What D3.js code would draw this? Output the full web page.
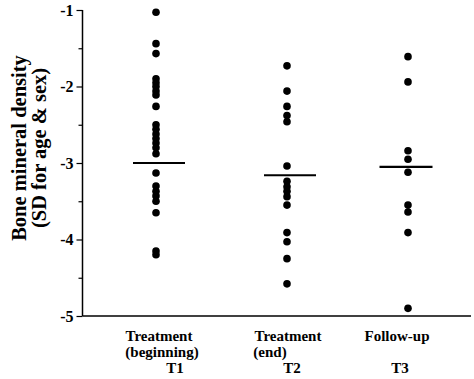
<!DOCTYPE html>
<html>
<head>
<meta charset="utf-8">
<script src="https://cdn.jsdelivr.net/npm/d3@7/dist/d3.min.js"></script>
<style>
html,body{margin:0;padding:0;background:#fff;}
svg{display:block;}
text{font-family:"Liberation Serif","Times New Roman",serif;font-weight:bold;fill:#000;}
</style>
</head>
<body>
<svg id="chart" width="474" height="379"></svg>
<script>
// Data
const categories = ["T1", "T2", "T3"];
const labelLines = [
  ["Treatment", "(beginning)", "T1"],
  ["Treatment", "(end)", "T2"],
  ["Follow-up", "", "T3"]
];
const t1Values = [-1.03, -1.44, -1.57, -1.9, -1.95, -2.0, -2.06, -2.11, -2.26,
  -2.5, -2.56, -2.62, -2.68, -2.74, -2.8, -2.88,
  -3.13, -3.3, -3.37, -3.43, -3.5, -3.65, -4.15, -4.2];
const t2Values = [-1.73, -2.06, -2.26, -2.38, -2.46, -3.04, -3.24, -3.31, -3.37,
  -3.44, -3.55, -3.91, -4.03, -4.25, -4.58];
const t3Values = [-1.61, -1.94, -2.84, -2.95, -3.12, -3.55, -3.64, -3.91, -4.9];
const meanValues = [-3.0, -3.16, -3.05];
const yTicks = [-1, -2, -3, -4, -5];
const yMinorTicks = [-1.5, -2.5, -3.5, -4.5];
const yTitle = ["Bone mineral density", "(SD for age & sex)"];

const series = [t1Values, t2Values, t3Values];

const svg = d3.select("#chart");
const y = d3.scaleLinear().domain([-5, -1]).range([316, 10]);
const x = d3.scaleOrdinal().domain(categories).range([156, 287, 408]);
const axisX0 = 82.5, axisX1 = 471;

// Y axis
const yAxis = d3.axisLeft(y).tickValues(yTicks).tickSize(6).tickPadding(3)
  .tickFormat(d => d3.format("d")(d).replace("−", "-"));
const gy = svg.append("g").attr("transform", `translate(${axisX0},0)`).call(yAxis);
gy.attr("font-family", null).attr("font-size", null);
gy.select(".domain").attr("stroke", "#000").attr("stroke-width", 1.5).attr("d", `M0,${y(-1)}V${y(-5)}`);
gy.selectAll(".tick line").attr("stroke", "#000").attr("stroke-width", 1.2);
gy.selectAll(".tick text").attr("font-size", 16);
const gyMinor = svg.append("g").attr("transform", `translate(${axisX0},0)`)
  .call(d3.axisLeft(y).tickValues(yMinorTicks).tickSize(4).tickFormat(""));
gyMinor.select(".domain").remove();
gyMinor.selectAll(".tick line").attr("stroke", "#000").attr("stroke-width", 1.2);

// X axis line
svg.append("line").attr("x1", axisX0).attr("x2", axisX1)
  .attr("y1", y(-5)).attr("y2", y(-5)).attr("stroke", "#000").attr("stroke-width", 1.5);

// Points
categories.forEach((c, i) => {
  svg.append("g").selectAll("circle").data(series[i]).join("circle")
    .attr("cx", x(c)).attr("cy", d => y(d)).attr("r", 3.8).attr("fill", "#000");
});

// Mean lines
const meanHalf = [26, 26, 26.5];
const meanDx = [3, 3, -2];
svg.append("g").selectAll("line").data(categories).join("line")
  .attr("x1", (c, i) => x(c) + meanDx[i] - meanHalf[i])
  .attr("x2", (c, i) => x(c) + meanDx[i] + meanHalf[i])
  .attr("y1", (c, i) => y(meanValues[i]))
  .attr("y2", (c, i) => y(meanValues[i]))
  .attr("stroke", "#000").attr("stroke-width", 2.2);

// X labels
const lineDx = [[3, 6, 19], [1, -17, 5], [-11, 0, -8]];
const lineY = [341, 357, 373];
categories.forEach((c, i) => {
  labelLines[i].forEach((t, j) => {
    if (!t) return;
    svg.append("text").attr("x", x(c) + lineDx[i][j]).attr("y", lineY[j])
      .attr("text-anchor", "middle").attr("font-size", 15).text(t);
  });
});

// Y title
const tg = svg.append("g").attr("transform", "translate(0,148) rotate(-90)");
tg.append("text").attr("x", 0).attr("y", 26).attr("text-anchor", "middle").attr("font-size", 20.5).text(yTitle[0]);
tg.append("text").attr("x", 0).attr("y", 46).attr("text-anchor", "middle").attr("font-size", 20.5).text(yTitle[1]);
</script>
</body>
</html>
